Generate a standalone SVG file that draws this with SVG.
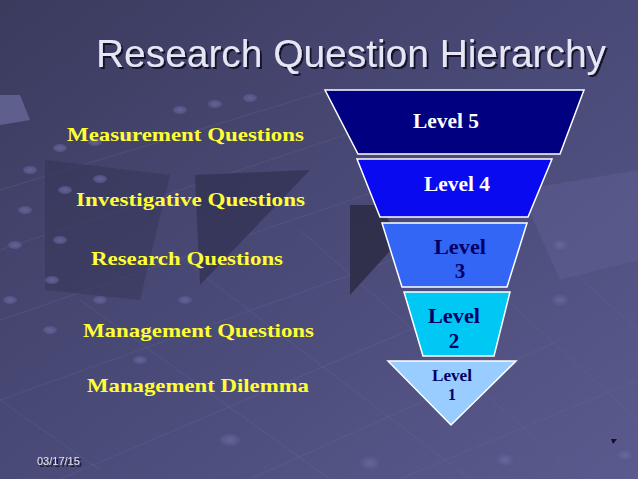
<svg xmlns="http://www.w3.org/2000/svg" width="638" height="479" viewBox="0 0 638 479">
<defs>
<linearGradient id="bg" x1="0" y1="0" x2="1" y2="1">
<stop offset="0" stop-color="#3b3b5e"/>
<stop offset="0.5" stop-color="#4a4a78"/>
<stop offset="1" stop-color="#5a5a8e"/>
</linearGradient>
<radialGradient id="dot" cx="0.5" cy="0.5" r="0.5">
<stop offset="0" stop-color="#6c6ca0"/>
<stop offset="1" stop-color="#55558a"/>
</radialGradient>
<filter id="sh" x="-5%" y="-20%" width="110%" height="140%">
<feDropShadow dx="2" dy="2" stdDeviation="0.6" flood-color="#111122" flood-opacity="0.9"/>
</filter>
<style>
.lbl{font-family:"Liberation Serif","DejaVu Serif",serif;font-weight:bold;font-size:19px;fill:#ffff33}
.lv{font-family:"Liberation Serif","DejaVu Serif",serif;font-weight:bold;font-size:21px;text-anchor:middle}
.lvs{font-size:16px}
.lvw{fill:#ffffff}
.lvd{fill:#000066}
.seg{stroke:#ffffff;stroke-width:1.5}
.grid{stroke:#6e6ea4;stroke-width:1;opacity:0.5;fill:none}
</style>
</defs>
<rect width="638" height="479" fill="url(#bg)"/>
<!-- background decoration -->
<g opacity="0.55">
<path class="grid" d="M0 190 L330 90 M0 250 L360 130 M0 320 L380 190 M0 400 L420 250 M60 479 L480 300 M250 479 L560 340 M400 479 L638 380"/>
<path class="grid" d="M100 470 L0 400 M330 479 L80 300 M470 479 L170 250 M560 460 L300 230 M638 420 L430 230 M638 330 L560 260"/>
<polygon points="45,160 170,175 140,300 45,290" fill="#2c2c4a" opacity="0.6"/>
<polygon points="195,175 310,170 200,285" fill="#23233d" opacity="0.8"/>
<polygon points="350,205 380,205 400,240 350,295" fill="#15151f" opacity="0.9"/>
<polygon points="0,95 20,95 30,120 0,125" fill="#7a7ab0"/>
<polygon points="520,190 638,170 638,260 560,280" fill="#6a6aa0" opacity="0.5"/>
</g>
<g fill="url(#dot)" opacity="0.8">
<ellipse cx="60" cy="148" rx="7" ry="4"/><ellipse cx="95" cy="142" rx="7" ry="4"/><ellipse cx="130" cy="136" rx="7" ry="4"/>
<ellipse cx="30" cy="170" rx="7" ry="4"/><ellipse cx="65" cy="190" rx="7" ry="4"/><ellipse cx="100" cy="179" rx="7" ry="4"/>
<ellipse cx="25" cy="210" rx="7" ry="4"/><ellipse cx="60" cy="240" rx="7" ry="4"/><ellipse cx="15" cy="245" rx="7" ry="4"/>
<ellipse cx="52" cy="280" rx="7" ry="4"/><ellipse cx="10" cy="300" rx="7" ry="4"/><ellipse cx="50" cy="330" rx="7" ry="4"/>
<ellipse cx="100" cy="300" rx="7" ry="4"/><ellipse cx="140" cy="360" rx="7" ry="4"/><ellipse cx="185" cy="300" rx="7" ry="4"/>
<ellipse cx="230" cy="440" rx="10" ry="6"/><ellipse cx="370" cy="463" rx="10" ry="7"/><ellipse cx="505" cy="460" rx="10" ry="7"/>
<ellipse cx="560" cy="245" rx="9" ry="6"/><ellipse cx="560" cy="300" rx="9" ry="6"/><ellipse cx="625" cy="455" rx="10" ry="7"/>
<ellipse cx="180" cy="110" rx="7" ry="4"/><ellipse cx="215" cy="104" rx="7" ry="4"/><ellipse cx="250" cy="98" rx="7" ry="4"/>
</g>
<polygon points="611,439 617,439 613,444" fill="#111122"/>
<!-- title -->
<text x="96" y="67" font-family="'Liberation Sans',Arial,sans-serif" font-size="38" fill="#e6e6f6" textLength="510" lengthAdjust="spacingAndGlyphs" filter="url(#sh)">Research Question Hierarchy</text>
<!-- labels -->
<g id="label-measurement"><text class="lbl" x="67" y="141" textLength="237" lengthAdjust="spacingAndGlyphs">Measurement Questions</text></g>
<g id="label-investigative"><text class="lbl" x="76" y="206" textLength="229" lengthAdjust="spacingAndGlyphs">Investigative Questions</text></g>
<g id="label-research"><text class="lbl" x="91" y="265" textLength="192" lengthAdjust="spacingAndGlyphs">Research Questions</text></g>
<g id="label-management-q"><text class="lbl" x="83" y="337" textLength="231" lengthAdjust="spacingAndGlyphs">Management Questions</text></g>
<g id="label-dilemma"><text class="lbl" x="87" y="392" textLength="222" lengthAdjust="spacingAndGlyphs">Management Dilemma</text></g>
<!-- funnel -->
<g id="level5">
<polygon class="seg" points="325,90 584,90 560,154 358,154" fill="#000080"/>
<text class="lv lvw" x="446" y="128" textLength="66" lengthAdjust="spacingAndGlyphs">Level 5</text>
</g>
<g id="level4">
<polygon class="seg" points="357,159 552,159 528,217 380,217" fill="#0a0af0"/>
<text class="lv lvw" x="457" y="191" textLength="66" lengthAdjust="spacingAndGlyphs">Level 4</text>
</g>
<g id="level3">
<polygon class="seg" points="382,223 527,223 507,287 402,287" fill="#3366f5"/>
<text class="lv lvd" x="460" y="254" textLength="52" lengthAdjust="spacingAndGlyphs">Level</text>
<text class="lv lvd" x="460" y="278">3</text>
</g>
<g id="level2">
<polygon class="seg" points="404,292 510,292 494,356 423,356" fill="#00c8f5"/>
<text class="lv lvd" x="454" y="323" textLength="52" lengthAdjust="spacingAndGlyphs">Level</text>
<text class="lv lvd" x="454" y="348">2</text>
</g>
<g id="level1">
<polygon class="seg" points="388,361 516,361 451,425" fill="#99ccff"/>
<text class="lv lvd lvs" x="452" y="381" textLength="40" lengthAdjust="spacingAndGlyphs">Level</text>
<text class="lv lvd lvs" x="452" y="400">1</text>
</g>
<!-- footer -->
<text x="37" y="465" font-family="'Liberation Sans',Arial,sans-serif" font-size="11" fill="#e0e0ee" filter="url(#sh)">03/17/15</text>
</svg>
